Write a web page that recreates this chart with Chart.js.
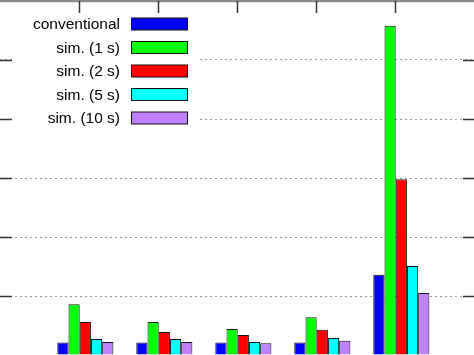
<!DOCTYPE html>
<html>
<head>
<meta charset="utf-8">
<script src="https://cdn.jsdelivr.net/npm/chart.js@4/dist/chart.umd.min.js"></script>
<style>
  html, body { margin: 0; padding: 0; background: #fff; }
  #wrap { width: 474px; height: 355px; position: relative; }
</style>
</head>
<body>
<div id="wrap"><canvas id="c" width="474" height="355"></canvas></div>
<script>
// ---- data ----
const categories = ['1', '2', '3', '4', '5'];
const seriesNames = ['conventional', 'sim. (1 s)', 'sim. (2 s)', 'sim. (5 s)', 'sim. (10 s)'];
const conventional = [0.21, 0.21, 0.21, 0.21, 1.36];
const sim1s  = [0.86, 0.56, 0.44, 0.64, 5.58];
const sim2s  = [0.56, 0.39, 0.34, 0.43, 2.98];
const sim5s  = [0.27, 0.27, 0.22, 0.29, 1.51];
const sim10s = [0.22, 0.22, 0.20, 0.24, 1.05];
const yTicks = [1, 2, 3, 4, 5];
const xTicks = [1, 2, 3, 4, 5];

// ---- styles ----
const colors = ['#0000ff', '#00ff00', '#ff0000', '#00ffff', '#c080ff'];
const clusterShift = 0.08;   // cluster centre sits slightly right of its tick
const allSeries = [conventional, sim1s, sim2s, sim5s, sim10s];

const datasets = allSeries.map((vals, i) => ({
  label: seriesNames[i],
  data: vals.map((v, k) => ({ x: k + 1 + clusterShift, y: v })),
  backgroundColor: colors[i],
  borderColor: '#111',
  borderWidth: 1,
  borderSkipped: 'bottom',
  categoryPercentage: 0.71,
  barPercentage: 1.0
}));

const framePlugin = {
  id: 'frame',
  afterDatasetsDraw(chart) {
    const ctx = chart.ctx;
    // opaque key
    ctx.save();
    ctx.fillStyle = '#ffffff';
    ctx.fillRect(12, 8, 186, 124);
    ctx.font = '15.5px "Liberation Sans", Arial, sans-serif';
    ctx.textAlign = 'right';
    ctx.textBaseline = 'middle';
    chart.data.datasets.forEach((ds, i) => {
      const cy = 24 + i * 23.5;
      ctx.fillStyle = '#000';
      ctx.fillText(ds.label, 120, cy + 1);
      ctx.fillStyle = ds.backgroundColor;
      ctx.fillRect(131.5, cy - 6, 56, 12);
      ctx.strokeStyle = '#111';
      ctx.lineWidth = 1;
      ctx.strokeRect(131.5, cy - 6, 56, 12);
    });
    ctx.restore();
  },
  afterDraw(chart) {
    const ctx = chart.ctx;
    const xs = chart.scales.x, ys = chart.scales.y;
    const a = chart.chartArea;
    ctx.save();
    // top border
    ctx.strokeStyle = '#8a8a8a';
    ctx.lineWidth = 2.5;
    ctx.beginPath();
    ctx.moveTo(a.left, a.top);
    ctx.lineTo(a.right, a.top);
    ctx.stroke();
    // tick marks (inward)
    ctx.strokeStyle = '#333';
    ctx.lineWidth = 1.5;
    ctx.beginPath();
    yTicks.forEach(v => {
      const y = Math.round(ys.getPixelForValue(v)) + 0.5;
      ctx.moveTo(a.left, y); ctx.lineTo(a.left + 12, y);
      ctx.moveTo(a.right, y); ctx.lineTo(a.right - 11, y);
    });
    xTicks.forEach(v => {
      const x = Math.round(xs.getPixelForValue(v)) + 0.5;
      ctx.moveTo(x, a.top); ctx.lineTo(x, a.top + 12);
    });
    ctx.stroke();
    ctx.restore();
  }
};

new Chart(document.getElementById('c'), {
  type: 'bar',
  data: { labels: categories, datasets },
  options: {
    responsive: false,
    animation: false,
    layout: { padding: { top: 1, left: 0, right: 0, bottom: 0 } },
    plugins: { legend: { display: false }, tooltip: { enabled: false } },
    scales: {
      x: {
        type: 'linear',
        offset: false,
        min: 0, max: 6,
        ticks: { display: false },
        grid: { display: false, drawTicks: false, offset: false },
        border: { display: false }
      },
      y: {
        min: 0, max: 6,
        ticks: { display: false, stepSize: 1 },
        grid: {
          drawTicks: false,
          color: c => (c.tick && (c.tick.value === 0 || c.tick.value === 6)) ? 'rgba(0,0,0,0)' : '#9a9a9a',
          lineWidth: 1
        },
        border: { display: false, dash: [2, 3] }
      }
    }
  },
  plugins: [framePlugin]
});
</script>
</body>
</html>
